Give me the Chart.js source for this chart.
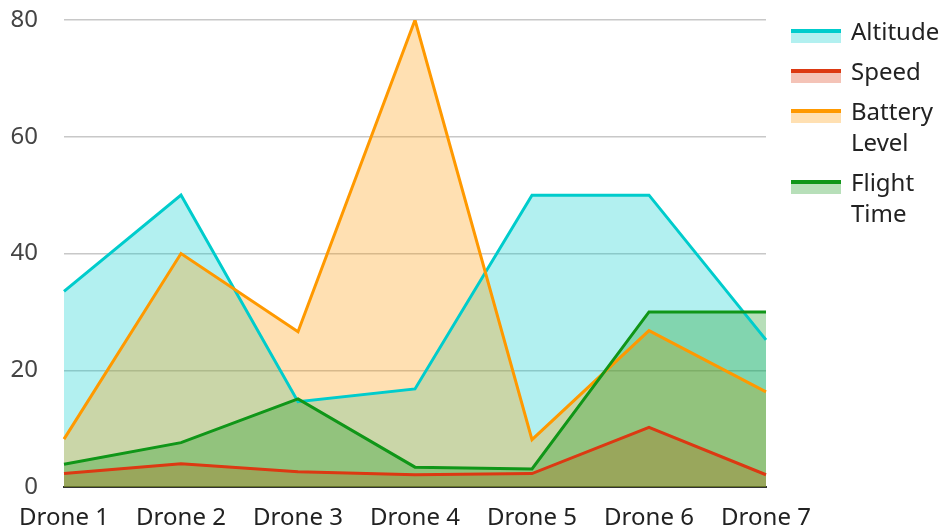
<!DOCTYPE html>
<html>
<head>
<meta charset="utf-8">
<script src="https://cdn.jsdelivr.net/npm/chart.js@4/dist/chart.umd.min.js"></script>
<style>
  html, body { margin: 0; padding: 0; background: #fff; }
  #wrap { position: relative; width: 942px; height: 526px; }
  #legend { position: absolute; left: 791px; top: 15px; font-family: "Noto Sans", sans-serif; font-size: 24px; line-height: 31px; color: #222; white-space: nowrap; }
  .item { position: relative; padding-left: 60px; margin-bottom: 9px; }
  .sw { position: absolute; left: 0; top: 14px; width: 50px; height: 14px; }
  .sw .ln { height: 4px; }
  .sw .fl { height: 10px; }
</style>
</head>
<body>
<div id="wrap">
  <canvas id="c" width="942" height="526"></canvas>
  <div id="legend"></div>
</div>
<script>
const categories = ['Drone 1', 'Drone 2', 'Drone 3', 'Drone 4', 'Drone 5', 'Drone 6', 'Drone 7'];
const altitude   = [33.5, 50, 14.6, 16.8, 50, 50, 25.2];
const speed      = [2.3, 4.0, 2.6, 2.1, 2.3, 10.2, 2.1];
const battery    = [8.2, 40, 26.6, 80, 8.1, 26.8, 16.3];
const flightTime = [3.9, 7.6, 15.1, 3.4, 3.1, 30, 30];
const seriesNames = ['Altitude', 'Speed', 'Battery Level', 'Flight Time'];
const legendLines = [['Altitude'], ['Speed'], ['Battery', 'Level'], ['Flight', 'Time']];
const yTicks = [0, 20, 40, 60, 80];

const lineColors = ['#00cccc', '#dc3912', '#ff9900', '#109618'];
const fillColors = ['rgba(0,204,204,0.3)', 'rgba(220,57,18,0.3)', 'rgba(255,153,0,0.3)', 'rgba(16,150,24,0.3)'];
const seriesData = [altitude, speed, battery, flightTime];

const datasets = seriesData.map((d, i) => ({
  label: seriesNames[i],
  data: d,
  borderColor: lineColors[i],
  backgroundColor: fillColors[i],
  borderWidth: 3,
  fill: 'origin',
  tension: 0,
  pointRadius: 0,
  pointHoverRadius: 0,
  order: 3 - i
}));

new Chart(document.getElementById('c'), {
  type: 'line',
  data: { labels: categories, datasets },
  options: {
    responsive: false,
    animation: false,
    layout: { padding: { top: 20, left: 0, right: 176, bottom: 0 } },
    plugins: {
      legend: { display: false },
      tooltip: { enabled: false },
      filler: { drawTime: 'beforeDatasetsDraw' }
    },
    scales: {
      x: {
        offset: false,
        grid: { display: false, drawTicks: false },
        border: { display: true, color: '#333', width: 2 },
        afterFit: s => { s.height = 39; s.paddingLeft = 0; s.paddingRight = 0; },
        ticks: {
          padding: 19,
          color: '#222',
          maxRotation: 0,
          autoSkip: false,
          font: { family: 'Noto Sans', size: 24, lineHeight: 1.0 }
        }
      },
      y: {
        min: 0, max: 80,
        afterFit: s => { s.width = 64; s.paddingTop = 0; s.paddingBottom = 0; },
        grid: {
          drawTicks: false,
          color: ctx => ctx.tick && ctx.tick.value === 0 ? '#333' : (yTicks.includes(ctx.tick && ctx.tick.value) ? '#c8c8c8' : '#e8e8e8'),
          lineWidth: ctx => ctx.tick && ctx.tick.value === 0 ? 2 : 1.5
        },
        border: { display: false },
        ticks: {
          stepSize: 10,
          padding: 26,
          color: '#444',
          font: { family: 'Noto Sans', size: 24, lineHeight: 1.2 },
          callback: v => yTicks.includes(v) ? String(v) : null
        }
      }
    }
  }
});

const lg = document.getElementById('legend');
legendLines.forEach((lines, i) => {
  const it = document.createElement('div');
  it.className = 'item';
  it.innerHTML = '<div class="sw"><div class="ln" style="background:' + lineColors[i] + '"></div><div class="fl" style="background:' + fillColors[i] + '"></div></div>' + lines.join('<br>');
  lg.appendChild(it);
});
</script>
</body>
</html>
